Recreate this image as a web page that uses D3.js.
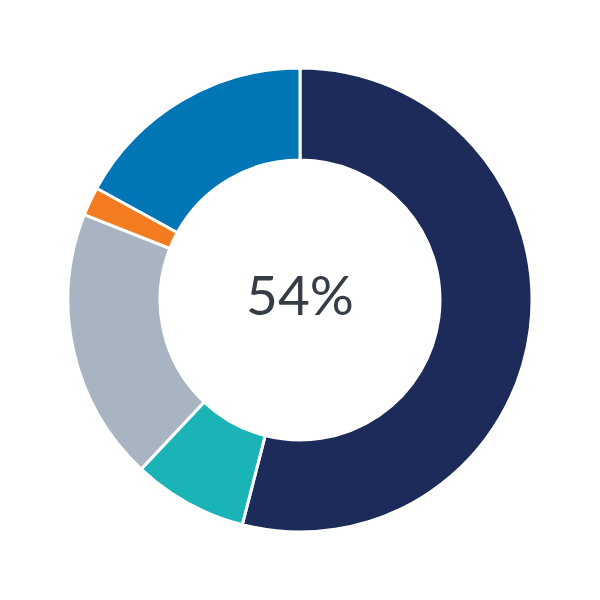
<!DOCTYPE html>
<html>
<head>
<meta charset="utf-8">
<script src="https://cdn.jsdelivr.net/npm/d3@7"></script>
<style>
  html, body { margin: 0; padding: 0; background: #fff; }
</style>
</head>
<body>
<div id="vis"></div>
<script>
// segment data, clockwise from 12 o'clock
const categories = ["A", "B", "C", "D", "E"];
const values = [54, 8, 19, 2, 17];
const colors = ["#1c2b5a", "#1bb4b6", "#a9b4c2", "#f47c20", "#0076b6"];
const centerLabel = "54%";

drawDonut();

function drawDonut() {
  const width = 600, height = 600;
  const outerR = 232, innerR = 140;

  const svg = d3.select("#vis")
      .append("svg")
      .attr("width", width)
      .attr("height", height);

  const g = svg.append("g")
      .attr("transform", "translate(300,300)");

  const pie = d3.pie()
      .sort(null)
      .value((d, i) => values[i]);

  const arc = d3.arc()
      .innerRadius(innerR)
      .outerRadius(outerR);

  g.selectAll("path")
      .data(pie(categories))
      .enter()
      .append("path")
      .attr("d", arc)
      .attr("fill", (d, i) => colors[i])
      .attr("stroke", "#fff")
      .attr("stroke-width", 3);

  g.append("text")
      .attr("text-anchor", "middle")
      .attr("dy", "0.35em")
      .attr("y", -4)
      .style("font-family", "Lato, 'Open Sans', sans-serif")
      .style("font-size", "55px")
      .style("fill", "#373d47")
      .text(centerLabel);
}
</script>
</body>
</html>
